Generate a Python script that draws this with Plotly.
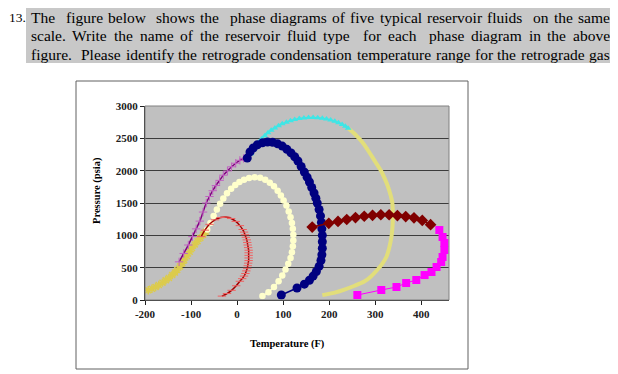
import plotly.graph_objects as go

# ---------------- data ----------------
x_ticks = [-200, -100, 0, 100, 200, 300, 400]
x_tick_labels = ["-200", "-100", "0", "100", "200", "300", "400"]
y_ticks = [0, 500, 1000, 1500, 2000, 2500, 3000]
y_tick_labels = ["0", "500", "1000", "1500", "2000", "2500", "3000"]

gold_T = [-193, -185, -177, -170, -162, -155, -148, -141, -135, -130, -124, -119, -115, -109, -103, -98, -92, -86, -80, -74, -68]
gold_P = [150, 175, 200, 232, 268, 305, 340, 385, 425, 464, 520, 570, 618, 680, 745, 804, 860, 910, 960, 1010, 1055]

cream_T = [-65, -58, -51, -44, -37, -30, -22, -13, -4, 5, 15, 26, 38, 50, 61, 71, 80, 88, 95, 101, 107, 112, 116, 119, 121, 122, 122, 121, 119, 116, 111, 105, 98, 90, 80, 68, 55]
cream_P = [1090, 1190, 1300, 1400, 1490, 1570, 1650, 1720, 1780, 1825, 1860, 1888, 1898, 1890, 1860, 1815, 1760, 1690, 1615, 1540, 1460, 1370, 1280, 1190, 1100, 1010, 920, 830, 740, 650, 560, 470, 380, 290, 200, 120, 60]

red_T = [-78, -70, -60, -48, -36, -24, -13, -3, 6, 12, 15, 17, 19, 21, 22, 23, 24, 25, 25, 25, 25, 25, 24, 23, 22, 20, 18, 15, 11, 6, -2, -12, -22, -33]
red_P = [980, 1080, 1170, 1240, 1275, 1283, 1260, 1215, 1150, 1090, 1050, 1010, 970, 930, 890, 850, 810, 770, 730, 690, 650, 610, 570, 530, 490, 450, 410, 370, 330, 290, 220, 150, 100, 60]

purple_T = [-126, -116, -106, -97, -89, -81, -74, -67, -60, -53, -46, -38, -30, -21, -12, -3, 6, 14, 21]
purple_P = [590, 720, 850, 980, 1100, 1220, 1360, 1500, 1600, 1690, 1770, 1850, 1930, 1995, 2060, 2115, 2160, 2190, 2205]

cyan_T = [30, 35, 41, 47, 53, 60, 67, 74, 82, 90, 98, 107, 116, 125, 135, 145, 155, 165, 175, 185, 194, 203, 212, 220, 228, 235, 241]
cyan_P = [2260, 2325, 2385, 2440, 2490, 2540, 2585, 2625, 2660, 2695, 2725, 2750, 2772, 2790, 2805, 2815, 2822, 2824, 2820, 2812, 2800, 2783, 2763, 2740, 2712, 2685, 2655]

khaki_T = [241, 252, 262, 272, 281, 290, 298, 306, 313, 319, 325, 330, 334, 337, 338, 338, 337, 335, 330, 324, 315, 304, 290, 276, 255, 233, 210, 185]
khaki_P = [2655, 2590, 2520, 2440, 2350, 2250, 2160, 2070, 1990, 1900, 1800, 1700, 1600, 1500, 1360, 1236, 1100, 974, 800, 665, 560, 464, 360, 285, 220, 160, 110, 75]

navy_T = [22, 28, 35, 44, 55, 66, 77, 88, 98, 108, 117, 125, 132, 139, 146, 152, 157, 162, 167, 171, 174, 178, 181, 183, 184, 185, 185, 185, 184, 182, 178, 172, 165, 157, 146, 130, 96]
navy_P = [2195, 2290, 2350, 2400, 2430, 2442, 2438, 2415, 2380, 2330, 2275, 2215, 2150, 2065, 1978, 1900, 1824, 1740, 1654, 1575, 1499, 1400, 1300, 1200, 1100, 1000, 900, 800, 700, 610, 520, 440, 370, 305, 245, 185, 77]

maroon_T = [163, 199, 219, 238, 257, 276, 294, 312, 330, 348, 366, 384, 402, 420]
maroon_P = [1128, 1185, 1215, 1245, 1275, 1295, 1310, 1318, 1318, 1305, 1290, 1270, 1230, 1165]

magenta_T = [439, 446, 450, 450, 446, 443, 433, 422, 407, 389, 367, 346, 313, 261]
magenta_P = [1082, 974, 881, 773, 665, 587, 510, 433, 386, 309, 263, 201, 155, 77]

question_number = "13."
question_lines = [
    "The  figure below  shows the  phase diagrams of five typical reservoir fluids  on the same",
    "scale. Write the name of the reservoir fluid type  for each  phase diagram in the above",
    "figure.  Please identify the retrograde condensation temperature range for the retrograde gas",
]
x_title = "Temperature (F)"
y_title = "Pressure (psia)"

# ---------------- layout geometry (page pixels) ----------------
OFF = 8                      # default body margin of the html page
W_PX, H_PX = 618 - OFF, 374 - OFF
PL, PR, PT, PB = 145, 449, 106, 300
SERIF = "Liberation Serif, Times New Roman, serif"


def px(xp):
    return (xp - PL) / (PR - PL)


def py(yp):
    return (PB - yp) / (PB - PT)


fig = go.Figure()

fig.add_trace(go.Scatter(x=khaki_T, y=khaki_P, mode="lines",
                         line=dict(color="#E2DE7A", width=4, shape="spline", smoothing=0.6), hoverinfo="skip"))
fig.add_trace(go.Scatter(x=gold_T, y=gold_P, mode="lines+markers",
                         line=dict(color="#D2C24A", width=1.5),
                         marker=dict(symbol="asterisk", size=7, line=dict(color="#DCCB4C", width=1.5)),
                         hoverinfo="skip"))
fig.add_trace(go.Scatter(x=cream_T, y=cream_P, mode="lines+markers",
                         line=dict(color="#FFFFCC", width=1.5),
                         marker=dict(symbol="circle", size=6.5, color="#FFFFCC"), hoverinfo="skip"))
fig.add_trace(go.Scatter(x=red_T, y=red_P, mode="lines+markers",
                         line=dict(color="#A00000", width=1.5, shape="spline"),
                         marker=dict(symbol="line-ew", size=6, line=dict(color="#F06060", width=1)),
                         hoverinfo="skip"))
fig.add_trace(go.Scatter(x=purple_T, y=purple_P, mode="lines+markers",
                         line=dict(color="#800080", width=1.5, shape="spline"),
                         marker=dict(symbol="cross-thin", size=6, line=dict(color="#C060C0", width=1)),
                         hoverinfo="skip"))
fig.add_trace(go.Scatter(x=cyan_T, y=cyan_P, mode="lines+markers",
                         line=dict(color="#3FE6E6", width=1.5),
                         marker=dict(symbol="triangle-up", size=6, color="#3FE6E6"), hoverinfo="skip"))
fig.add_trace(go.Scatter(x=navy_T, y=navy_P, mode="lines+markers",
                         line=dict(color="#000080", width=1.5),
                         marker=dict(symbol="circle", size=9, color="#000080"), hoverinfo="skip"))
fig.add_trace(go.Scatter(x=maroon_T, y=maroon_P, mode="lines+markers",
                         line=dict(color="#800000", width=1.5),
                         marker=dict(symbol="diamond", size=9, color="#800000"), hoverinfo="skip"))
fig.add_trace(go.Scatter(x=magenta_T, y=magenta_P, mode="lines+markers",
                         line=dict(color="#FF00FF", width=1),
                         marker=dict(symbol="square", size=8, color="#FF00FF"), hoverinfo="skip"))

shapes = [
    dict(type="rect", xref="paper", yref="paper", x0=px(26), x1=px(612), y0=py(6), y1=py(63),
         fillcolor="#C8C8C8", line=dict(width=0), layer="below"),
    dict(type="rect", xref="paper", yref="paper", x0=px(76), x1=px(468), y0=py(81), y1=py(369),
         fillcolor="rgba(0,0,0,0)", line=dict(color="#606060", width=1), layer="below"),
    dict(type="rect", xref="paper", yref="paper", x0=0, x1=1, y0=0, y1=1,
         fillcolor="rgba(0,0,0,0)", line=dict(color="#808080", width=1), layer="above"),
]

# Times-Roman glyph widths (1/1000 em)
TW = {' ': 250, '.': 250, ',': 250, '(': 333, ')': 333, '-': 333,
      'a': 444, 'b': 500, 'c': 444, 'd': 500, 'e': 444, 'f': 333, 'g': 500, 'h': 500, 'i': 278,
      'j': 278, 'k': 500, 'l': 278, 'm': 778, 'n': 500, 'o': 500, 'p': 500, 'q': 500, 'r': 333,
      's': 389, 't': 278, 'u': 500, 'v': 500, 'w': 722, 'x': 500, 'y': 500, 'z': 444,
      'P': 556, 'T': 611, 'W': 944}

FS = 15.5
TX0, TX1 = 30, 609
line_y = [17, 36, 54]
annotations = [dict(text=question_number, x=px(8), y=py(line_y[0]), xref="paper", yref="paper",
                    xanchor="left", yanchor="middle", showarrow=False, borderpad=0,
                    font=dict(family=SERIF, size=13.5, color="black"))]
for li, line in enumerate(question_lines):
    nat = sum(TW.get(c, 500) for c in line) * FS / 1000
    nsp = line.count(' ')
    extra = (TX1 - TX0 - nat) / nsp
    xcur = TX0
    word = ""
    wstart = xcur
    for c in line + " ":
        if c == ' ':
            if word:
                annotations.append(dict(text=word, x=px(wstart - 1), y=py(line_y[li]), xref="paper",
                                        yref="paper", xanchor="left", yanchor="middle", showarrow=False,
                                        font=dict(family=SERIF, size=FS, color="black")))
            word = ""
            xcur += TW[' '] * FS / 1000 + extra
        else:
            if not word:
                wstart = xcur
            word += c
            xcur += TW.get(c, 500) * FS / 1000

annotations.append(dict(text="<b>%s</b>" % x_title, x=px(287), y=py(344), xref="paper", yref="paper",
                        xanchor="center", yanchor="middle", showarrow=False,
                        font=dict(family=SERIF, size=10.5, color="black")))
annotations.append(dict(text="<b>%s</b>" % y_title, x=px(97), y=py(191), xref="paper", yref="paper",
                        xanchor="center", yanchor="middle", showarrow=False, textangle=-90,
                        font=dict(family=SERIF, size=10.5, color="black")))

fig.update_layout(
    width=W_PX, height=H_PX,
    margin=dict(l=PL - OFF, r=W_PX - (PR - OFF), t=PT - OFF, b=H_PX - (PB - OFF), pad=0),
    paper_bgcolor="white", plot_bgcolor="#C0C0C0",
    showlegend=False,
    shapes=shapes, annotations=annotations,
    xaxis=dict(range=[-200, 460], tickvals=x_ticks, ticktext=["<b>%s</b>" % t for t in x_tick_labels],
               showgrid=False, zeroline=False, showline=True, linecolor="#202020", linewidth=1,
               ticks="outside", ticklen=4, tickcolor="#202020",
               tickfont=dict(family=SERIF, size=11, color="#202020"), fixedrange=True),
    yaxis=dict(range=[0, 3000], tickvals=y_ticks, ticktext=["<b>%s</b>" % t for t in y_tick_labels],
               showgrid=True, gridcolor="#3C3C3C", gridwidth=1, zeroline=False,
               showline=True, linecolor="#202020", linewidth=1,
               ticks="outside", ticklen=4, tickcolor="#202020",
               tickfont=dict(family=SERIF, size=11, color="#202020"), fixedrange=True),
)

fig.write_html("out.html")
